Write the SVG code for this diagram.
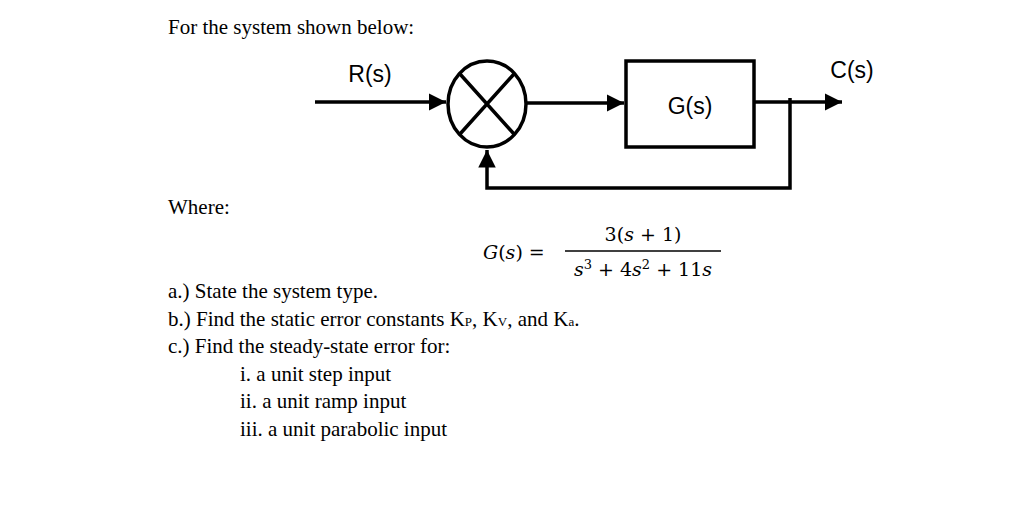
<svg xmlns="http://www.w3.org/2000/svg" width="1015" height="508" viewBox="0 0 1015 508">
<style>
.t{font-family:"Liberation Serif",serif;font-size:21px;fill:#000}
.m{font-family:"DejaVu Serif","Liberation Serif",serif;font-size:19px;fill:#000}
.l{font-family:"Liberation Sans",sans-serif;font-size:23px;fill:#000}
.s{fill:none;stroke:#000;stroke-width:3.5}
</style>
<defs><marker id="a" viewBox="0 0 10 10" refX="10" refY="5" markerWidth="5" markerHeight="5" orient="auto" markerUnits="strokeWidth"><path d="M0,0L10,5L0,10z" fill="#000"/></marker></defs>
<rect width="1015" height="508" fill="#fff"/>
<text class="t" x="168" y="34">For the system shown below:</text>
<g id="sum"><ellipse class="s" cx="487" cy="104" rx="39" ry="43"/><path class="s" d="M460,74L514,134M514,74L460,134"/></g>
<g id="G"><rect class="s" x="626" y="61" width="128" height="86"/><text class="l" x="690" y="114" text-anchor="middle">G(s)</text></g>
<g id="connectors">
<path class="s" d="M315,102H446" marker-end="url(#a)"/>
<path class="s" d="M526,103H624" marker-end="url(#a)"/>
<path class="s" d="M754,102H842" marker-end="url(#a)"/>
<path class="s" d="M790,98V188H487V150" marker-end="url(#a)"/>
</g>
<text class="l" x="370" y="82" text-anchor="middle">R(s)</text>
<text class="l" x="852" y="78" text-anchor="middle">C(s)</text>
<text class="t" x="168" y="214">Where:</text>
<text class="m" x="483" y="259" font-style="italic">G<tspan font-style="normal">(</tspan>s<tspan font-style="normal">) =</tspan></text>
<line x1="565" y1="251" x2="721" y2="251" stroke="#000" stroke-width="1.5"/>
<text class="m" x="643" y="241" text-anchor="middle">3(<tspan font-style="italic">s</tspan> + 1)</text>
<text class="m" x="643" y="276" text-anchor="middle"><tspan font-style="italic">s</tspan><tspan font-size="13" dy="-7">3</tspan><tspan dy="7"> + 4</tspan><tspan font-style="italic">s</tspan><tspan font-size="13" dy="-7">2</tspan><tspan dy="7"> + 11</tspan><tspan font-style="italic">s</tspan></text>
<text class="t" x="168" y="298">a.) State the system type.</text>
<text class="t" x="168" y="326">b.) Find the static error constants K<tspan font-size="13">P</tspan>, K<tspan font-size="13">V</tspan>, and K<tspan font-size="13">a</tspan>.</text>
<text class="t" x="168" y="353">c.) Find the steady-state error for:</text>
<text class="t" x="240" y="381">i. a unit step input</text>
<text class="t" x="240" y="408">ii. a unit ramp input</text>
<text class="t" x="240" y="436">iii. a unit parabolic input</text>
</svg>
